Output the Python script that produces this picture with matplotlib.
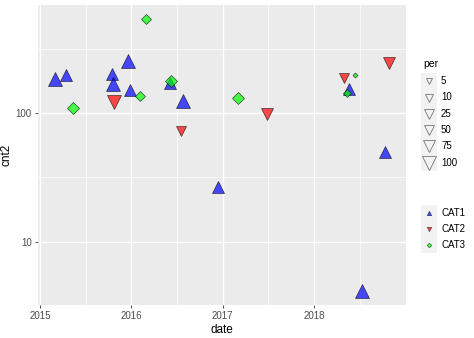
import numpy as np
import matplotlib.pyplot as plt
import matplotlib.dates as mdates
import datetime as dt

plt.rcParams['font.family'] = ['Liberation Sans', 'DejaVu Sans']

# observations: date, count, share and category
dates = ['2015-03-01', '2015-04-16', '2015-05-12', '2015-10-14', '2015-10-19',
         '2015-10-23', '2015-12-17', '2015-12-28', '2016-02-06', '2016-02-28',
         '2016-06-02', '2016-06-06', '2016-07-27', '2016-07-19', '2016-12-13',
         '2017-03-04', '2017-06-25', '2018-05-01', '2018-06-14', '2018-05-19',
         '2018-05-12', '2018-07-13', '2018-10-27', '2018-10-12']
cnt2 = [185, 198, 110, 202, 168,
        122, 257, 152, 135, 545,
        171, 177, 125, 73, 26.8,
        131, 98, 187, 200, 155,
        143, 4.1, 245, 50]
per = [100, 90, 80, 85, 100,
       100, 95, 70, 50, 40,
       70, 60, 95, 25, 85,
       60, 85, 50, 1, 80,
       20, 100, 70, 90]
cat = ['CAT1', 'CAT1', 'CAT3', 'CAT1', 'CAT1',
       'CAT2', 'CAT1', 'CAT1', 'CAT3', 'CAT3',
       'CAT1', 'CAT3', 'CAT1', 'CAT2', 'CAT1',
       'CAT3', 'CAT2', 'CAT2', 'CAT3', 'CAT1',
       'CAT3', 'CAT1', 'CAT2', 'CAT1']

categories = ['CAT1', 'CAT2', 'CAT3']
cat_colors = {'CAT1': 'blue', 'CAT2': 'red', 'CAT3': 'lime'}
cat_markers = {'CAT1': '^', 'CAT2': 'v', 'CAT3': 'D'}
size_breaks = [5, 10, 25, 50, 75, 100]


def marker_size(p, m):
    # width in points, area-like scaling
    w = 3.6 + 6.0 * np.sqrt(max(p - 1, 0) / 99.0)
    if m == 'D':
        w = w * 0.7
    return w


x = [mdates.date2num(dt.datetime.strptime(d, '%Y-%m-%d')) for d in dates]

fig = plt.figure(figsize=(4.74, 3.38), dpi=100)
ax = fig.add_axes([38 / 474, 33 / 338, 368 / 474, 300 / 338])
ax.set_facecolor('#EBEBEB')

for i in range(len(x)):
    m = cat_markers[cat[i]]
    ax.plot(x[i], cnt2[i], marker=m, linestyle='none',
            markersize=marker_size(per[i], m),
            markerfacecolor=cat_colors[cat[i]], markeredgecolor='black',
            markeredgewidth=0.5, alpha=0.7, zorder=3)

ax.set_yscale('log')
ax.set_yticks([10, 100])
ax.set_yticklabels(['10', '100'])
ax.set_yticks([np.sqrt(10) * 10 ** k for k in range(0, 3)], minor=True)
ax.yaxis.set_minor_formatter(plt.NullFormatter())
years = [mdates.date2num(dt.datetime(y, 1, 1)) for y in range(2015, 2019)]
ax.set_xticks(years)
ax.set_xticklabels([str(y) for y in range(2015, 2019)])
ax.set_xticks([mdates.date2num(dt.datetime(y, 7, 2)) for y in range(2015, 2019)], minor=True)

# limits go last so the tick setters don't widen the view
ax.set_ylim(3.2, 697)
ax.set_xlim(mdates.date2num(dt.datetime(2014, 12, 24)),
            mdates.date2num(dt.datetime(2019, 1, 4)))

ax.grid(True, which='major', color='white', linewidth=1.0, zorder=0)
ax.grid(True, which='minor', color='white', linewidth=0.5, zorder=0)
ax.set_axisbelow(True)
for s in ax.spines.values():
    s.set_visible(False)
ax.tick_params(which='major', length=2.5, width=0.6, color='#333333',
               labelsize=7, labelcolor='#4D4D4D', pad=2)
ax.tick_params(which='minor', length=0)

ax.set_xlabel('date', fontsize=8.5, color='black', labelpad=2)
ax.set_ylabel('cnt2', fontsize=8.5, color='black')
ax.yaxis.set_label_coords(-26 / 368, 0.5)

# size legend
fig.text(423 / 474, 1 - 64 / 338, 'per', fontsize=7.5, va='center', ha='left')
key_y = [81, 97.5, 114, 130, 146, 162.5]
kax = fig.add_axes([421 / 474, 1 - 171 / 338, 16 / 474, 98 / 338])
kax.set_xlim(0, 1)
kax.set_ylim(171, 73)
kax.axis('off')
kax.add_patch(plt.Rectangle((0, 73), 1, 98, color='#F2F2F2', zorder=0))
for b, yy in zip(size_breaks, key_y):
    kax.plot(0.5, yy, marker='v', markersize=marker_size(b, 'v'),
             markerfacecolor='none', markeredgecolor='#777777',
             markeredgewidth=0.6, linestyle='none')
    fig.text(441 / 474, 1 - yy / 338, str(b), fontsize=7, va='center', ha='left')

# category legend
cax = fig.add_axes([421 / 474, 1 - 253 / 338, 16 / 474, 48 / 338])
cax.set_xlim(0, 1)
cax.set_ylim(253, 205)
cax.axis('off')
cax.add_patch(plt.Rectangle((0, 205), 1, 48, color='#F2F2F2', zorder=0))
for c, yy in zip(categories, [213, 229, 245]):
    m = cat_markers[c]
    cax.plot(0.5, yy, marker=m, markersize=3.2 if m != 'D' else 2.4,
             markerfacecolor=cat_colors[c], markeredgecolor='black',
             markeredgewidth=0.4, alpha=0.7, linestyle='none')
    fig.text(441 / 474, 1 - yy / 338, c, fontsize=7, va='center', ha='left')

fig.savefig('out.png', dpi=100)
